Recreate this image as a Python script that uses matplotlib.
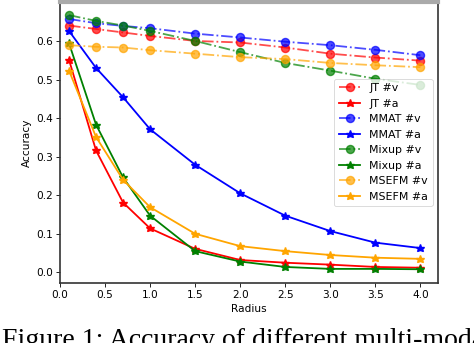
import matplotlib
matplotlib.use("Agg")
import matplotlib.pyplot as plt

radius = [0.1, 0.4, 0.7, 1.0, 1.5, 2.0, 2.5, 3.0, 3.5, 4.0]

jt_v = [0.640, 0.631, 0.622, 0.613, 0.600, 0.596, 0.583, 0.567, 0.557, 0.549]
jt_a = [0.551, 0.316, 0.181, 0.114, 0.061, 0.032, 0.025, 0.020, 0.014, 0.012]
mmat_v = [0.657, 0.646, 0.639, 0.633, 0.619, 0.609, 0.598, 0.589, 0.577, 0.563]
mmat_a = [0.626, 0.530, 0.454, 0.371, 0.279, 0.205, 0.147, 0.107, 0.077, 0.063]
mixup_v = [0.667, 0.652, 0.640, 0.626, 0.600, 0.571, 0.543, 0.523, 0.502, 0.486]
mixup_a = [0.594, 0.383, 0.246, 0.147, 0.055, 0.028, 0.014, 0.009, 0.009, 0.008]
msefm_v = [0.589, 0.585, 0.583, 0.576, 0.567, 0.558, 0.553, 0.543, 0.537, 0.532]
msefm_a = [0.523, 0.351, 0.240, 0.169, 0.100, 0.068, 0.055, 0.045, 0.038, 0.035]

labels = ["JT #v", "JT #a", "MMAT #v", "MMAT #a", "Mixup #v", "Mixup #a", "MSEFM #v", "MSEFM #a"]
series = [jt_v, jt_a, mmat_v, mmat_a, mixup_v, mixup_a, msefm_v, msefm_a]
colors = ["red", "red", "blue", "blue", "green", "green", "orange", "orange"]

fs = 7.6
fig = plt.figure(figsize=(4.74, 3.43), dpi=100)
ax = fig.add_axes([60/474, (343-283)/343, 378/474, 281/343])

for lab, ys, c in zip(labels, series, colors):
    if lab.endswith("#v"):
        ax.plot(radius, ys, linestyle="-.", marker="o", color=c, alpha=0.7,
                lw=1.3, markersize=5.8, label=lab)
    else:
        ax.plot(radius, ys, linestyle="-", marker="*", color=c,
                lw=1.3, markersize=6.2, label=lab)

ax.set_xlim(0, 4.195)
ax.set_ylim(-0.0276, 0.701)
ax.set_xticks([0.0, 0.5, 1.0, 1.5, 2.0, 2.5, 3.0, 3.5, 4.0])
ax.set_yticks([0.0, 0.1, 0.2, 0.3, 0.4, 0.5, 0.6])
ax.tick_params(labelsize=fs, length=2.7, width=0.6, pad=2.5)
ax.set_xlabel("Radius", fontsize=fs, labelpad=2.5)
ax.set_ylabel("Accuracy", fontsize=fs, labelpad=3)
for s in ["left", "right", "bottom"]:
    ax.spines[s].set_linewidth(1.2)
    ax.spines[s].set_color("#333333")
ax.spines["top"].set_linewidth(3)
ax.spines["top"].set_color("#aaaaaa")

leg = ax.legend(loc="center right", fontsize=fs + 0.3, handlelength=2.0,
                labelspacing=0.5, borderpad=0.4, handletextpad=0.8)
leg.get_frame().set_linewidth(0.6)

fig.text(0.004, -0.012, "Figure 1: Accuracy of different multi-modal",
         fontsize=20, family="Liberation Serif", va="baseline", ha="left")

fig.savefig("out.png", dpi=100)
